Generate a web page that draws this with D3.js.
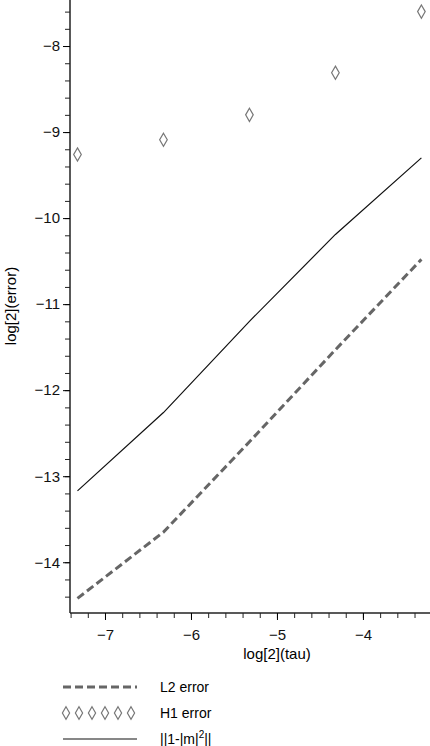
<!DOCTYPE html><html><head><script src="https://d3js.org/d3.v7.min.js"></script>
<style>body{margin:0;background:#fff}text{font-family:"Liberation Sans",Arial,sans-serif}</style></head><body><svg id="c" width="430" height="746"></svg><script>
const xs=[-7.32,-6.32,-5.32,-4.32,-3.32];
const h1=[-9.26,-9.09,-8.80,-8.31,-7.60];
const norm=[-13.17,-12.26,-11.20,-10.19,-9.30];
const l2=[-14.42,-13.65,-12.60,-11.53,-10.48];
const xTicks=[-7,-6,-5,-4], yTicks=[-8,-9,-10,-11,-12,-13,-14];
const svg=d3.select("#c");
const x=d3.scaleLinear().domain([-7.407,-3.22]).range([70,430]);
const y=d3.scaleLinear().domain([-14.59,-7.465]).range([613,0]);
const minorX=d3.range(-7.4,-3.2,0.2), minorY=d3.range(-14.4,-7.4,0.2);
svg.append("g").attr("transform","translate(0,613)").call(d3.axisBottom(x).tickValues(minorX).tickSize(5).tickFormat("")).call(g=>g.select(".domain").remove()).selectAll("line").attr("stroke","#222");
svg.append("g").attr("transform","translate(70,0)").call(d3.axisLeft(y).tickValues(minorY).tickSize(5).tickFormat("")).call(g=>g.select(".domain").remove()).selectAll("line").attr("stroke","#222");
const fmt=d=>"\u2212"+Math.abs(d);
const ax=svg.append("g").attr("transform","translate(0,613)").call(d3.axisBottom(x).tickValues(xTicks).tickSize(7).tickFormat(fmt));
ax.select(".domain").attr("d","M70,0H430").attr("stroke","#222").attr("stroke-width",1.5);
ax.selectAll("text").attr("font-size",15).attr("fill","#111").attr("dy","1.1em");
const ay=svg.append("g").attr("transform","translate(70,0)").call(d3.axisLeft(y).tickValues(yTicks).tickSize(7).tickFormat(fmt));
ay.select(".domain").attr("d","M0,0V613").attr("stroke","#222").attr("stroke-width",1.5);
ay.selectAll("text").attr("font-size",15).attr("fill","#111");
const line=d3.line().x((d,i)=>x(xs[i])).y(d=>y(d));
svg.append("path").attr("d",line(l2)).attr("fill","none").attr("stroke","#666").attr("stroke-width",3).attr("stroke-dasharray","8,4");
svg.append("path").attr("d",line(norm)).attr("fill","none").attr("stroke","#111").attr("stroke-width",1.2);
const dia=d3.symbol().type(d3.symbolDiamond).size(50);
svg.selectAll(".h").data(h1).join("path").attr("transform",(d,i)=>`translate(${x(xs[i])},${y(d)})`).attr("d",dia).attr("fill","none").attr("stroke","#777").attr("stroke-width",1.2);
svg.append("text").attr("x",277).attr("y",659).attr("text-anchor","middle").attr("font-size",15).text("log[2](tau)");
svg.append("text").attr("transform","translate(16,306) rotate(-90)").attr("text-anchor","middle").attr("font-size",15).text("log[2](error)");
svg.append("line").attr("x1",63).attr("x2",137).attr("y1",687).attr("y2",687).attr("stroke","#666").attr("stroke-width",3).attr("stroke-dasharray","8,4");
svg.append("text").attr("x",160).attr("y",692).attr("font-size",14).text("L2 error");
svg.selectAll(".ld").data(d3.range(6)).join("path").attr("transform",d=>`translate(${66+d*13},713)`).attr("d",d3.symbol().type(d3.symbolDiamond).size(45)).attr("fill","none").attr("stroke","#777").attr("stroke-width",1.2);
svg.append("text").attr("x",160).attr("y",718).attr("font-size",14).text("H1 error");
svg.append("line").attr("x1",63).attr("x2",137).attr("y1",739).attr("y2",739).attr("stroke","#111").attr("stroke-width",1.2);
const t=svg.append("text").attr("x",160).attr("y",744).attr("font-size",14);
t.append("tspan").text("||1-|m|");t.append("tspan").attr("dy",-6).attr("font-size",10).text("2");t.append("tspan").attr("dy",6).text("||");
</script></body></html>
